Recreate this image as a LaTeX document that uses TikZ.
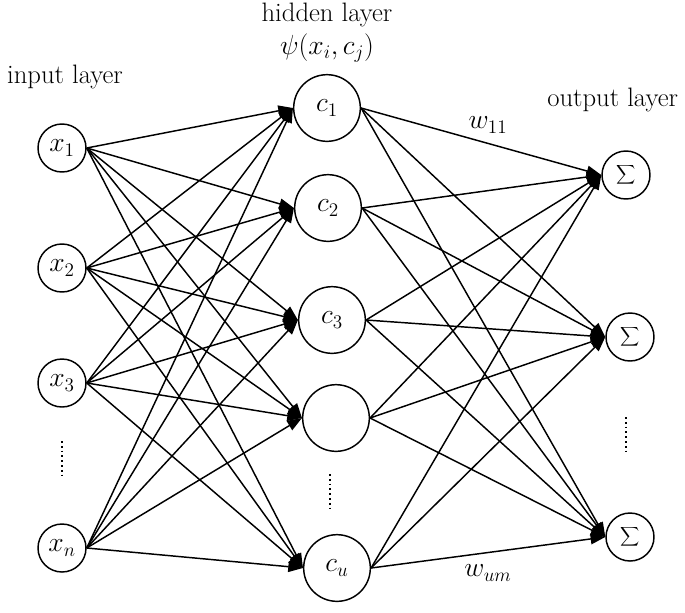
\documentclass[tikz,border=0pt]{standalone}
\usetikzlibrary{arrows.meta}
\begin{document}
\begin{tikzpicture}[x=0.75pt,y=-0.75pt,
  font=\fontsize{20}{24}\selectfont,
  neu/.style={circle,draw,line width=1.1pt,inner sep=0pt},
  inp/.style={neu,minimum size=36pt},
  hid/.style={neu,minimum size=50pt},
  outn/.style={neu,minimum size=36pt},
  con/.style={line width=1.1pt,-{Triangle[length=11pt,width=8pt]}},
  vdots/.style={line width=2.2pt,dash pattern=on 1.4pt off 2.2pt},
  lbl/.style={inner sep=0pt}]
\useasboundingbox (0,0) rectangle (685,612);
\node[inp] (x1) at (62,148) {$x_1$};
\node[inp] (x2) at (62,268) {$x_2$};
\node[inp] (x3) at (62,383) {$x_3$};
\node[inp] (xn) at (62,548) {$x_n$};
\node[hid] (c1) at (327,108) {$c_1$};
\node[hid] (c2) at (328,208) {$c_2$};
\node[hid] (c3) at (332,320) {$c_3$};
\node[hid] (c4) at (336,418) {};
\node[hid] (cu) at (337,568) {$c_u$};
\node[outn] (s1) at (626,175) {$\displaystyle\sum$};
\node[outn] (s2) at (630,337) {$\displaystyle\sum$};
\node[outn] (s3) at (630,537) {$\displaystyle\sum$};
\coordinate (di1) at (62,441); \coordinate (di2) at (62,476);
\coordinate (dh1) at (330,474); \coordinate (dh2) at (330,509);
\coordinate (do1) at (626,417); \coordinate (do2) at (626,452);
\draw[vdots] (di1) -- (di2);
\draw[vdots] (dh1) -- (dh2);
\draw[vdots] (do1) -- (do2);
\foreach \i in {x1,x2,x3,xn}
  \foreach \j in {c1,c2,c3,c4,cu}
    \draw[con] (\i.east) -- (\j.west);
\foreach \i in {c1,c2,c3,c4,cu}
  \foreach \j in {s1,s2,s3}
    \draw[con] (\i.east) -- (\j.west);
\node[lbl] (tin) at (65,77) {input layer};
\node[lbl] (thid) at (327,15) {hidden layer};
\node[lbl] (tpsi) at (327,48) {$\psi(x_i,c_j)$};
\node[lbl,anchor=west] (tout) at (547,100) {output layer};
\node[lbl] (w11) at (488,125) {$w_{11}$};
\node[lbl] (wum) at (488,573) {$w_{um}$};
\end{tikzpicture}
\end{document}
